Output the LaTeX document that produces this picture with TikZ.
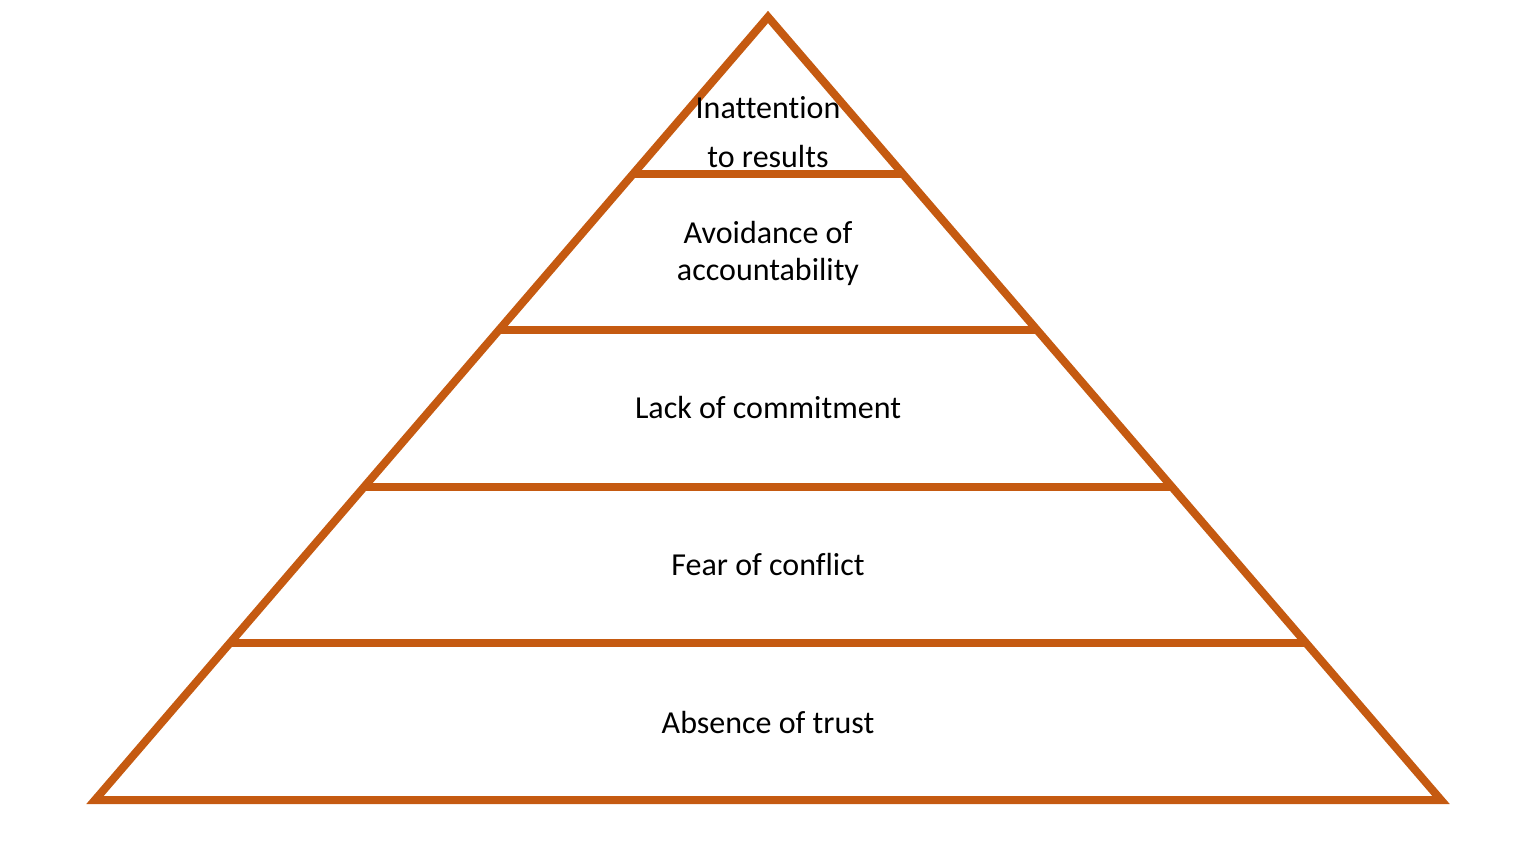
\documentclass[tikz,border=0pt]{standalone}
\usepackage{fontspec}
\setmainfont[Ligatures=NoCommon]{Carlito}
\definecolor{pyrorange}{RGB}{197, 90, 17}
\usetikzlibrary{calc}

\begin{document}
\begin{tikzpicture}[x=1pt, y=-1pt, line join=miter,
  tier/.style={font=\fontsize{32}{32}\selectfont, align=center, inner sep=0pt}]
\useasboundingbox (0,0) rectangle (1536,864);
\coordinate (apex) at (768,17);
\coordinate (bl) at (95,800);
\coordinate (br) at (1441,800);
\draw[pyrorange, line width=8pt] (apex) -- (bl) -- (br) -- cycle;
\foreach \t in {0.2,0.4,0.6,0.8}
  \draw[pyrorange, line width=8pt] ($(apex)!\t!(bl)$) -- ($(apex)!\t!(br)$);
\node[tier] (results) at (768,108) {Inattention};
\node[tier] (results2) at (768,157) {to results};
\node[tier] (account) at (768,253) {Avoidance of\\[5pt]accountability};
\node[tier] (commit) at (768,408) {Lack of commitment};
\node[tier] (conflict) at (768,565) {Fear of conflict};
\node[tier] (trust) at (768,722) {Absence of trust};
\end{tikzpicture}
\end{document}
